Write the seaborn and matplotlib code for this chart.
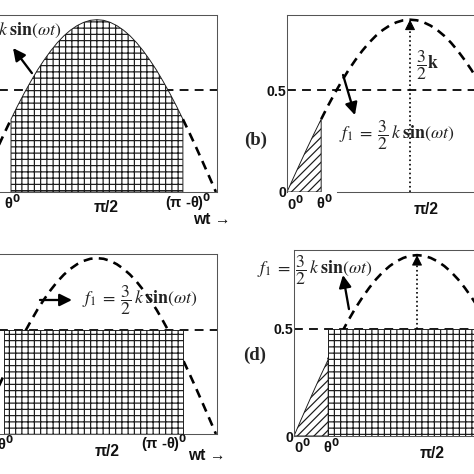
import matplotlib
matplotlib.use("Agg")
import matplotlib.pyplot as plt
import numpy as np
import pandas as pd
import seaborn as sns

# ---------------- data ----------------
angle_deg = list(range(0, 181, 5))          # wt in degrees
f1_height = [0.000, 0.074, 0.147, 0.219, 0.289, 0.357, 0.423, 0.485, 0.543,
             0.598, 0.647, 0.692, 0.732, 0.766, 0.794, 0.816, 0.832, 0.842,
             0.845,
             0.842, 0.832, 0.816, 0.794, 0.766, 0.732, 0.692, 0.647, 0.598,
             0.543, 0.485, 0.423, 0.357, 0.289, 0.219, 0.147, 0.074, 0.000]
threshold = 0.5
theta_deg = 25
peak_deg = 90
peak_val = 0.845
c_rect = [20, 155]            # grid block in panel (c)
panel_tags = ["(b)", "(d)"]
formula = r"$f_1\;=\;\dfrac{3}{2}\,k\;\mathbf{sin}(\omega t)$"
peak_label = r"$\dfrac{3}{2}\mathbf{k}$"
xlab_theta = r"θ$^{\mathbf{0}}$"
xlab_half = "π/2"
xlab_pimt = r"(π -θ)$^{\mathbf{0}}$"
xlab_zero = r"0$^{\mathbf{0}}$"
xlab_wt = "wt →"
ytick_vals = [0, 0.5]
ytick_labs = ["0", "0.5"]

df = pd.DataFrame({"angle": angle_deg, "f1": f1_height})

# ---------------- style ----------------
sns.set_theme(style="white")
plt.rcParams["font.family"] = ["Liberation Sans", "DejaVu Sans"]
plt.rcParams["mathtext.fontset"] = "stix"
plt.rcParams["hatch.linewidth"] = 1.15
plt.rcParams["hatch.color"] = "#1a1a1a"

W = H = 474
DPI = 75
fig = plt.figure(figsize=(W / DPI, H / DPI), dpi=DPI)
fig.patch.set_facecolor("white")

PT = 72 / DPI   # px -> points

CURVE = dict(color="black", lw=2.5, linestyle=(0, (3.5, 2.4)))
HLINE = dict(color="black", lw=1.7, linestyle=(0, (5, 3.5)))
LAB = dict(fontsize=14, fontweight="bold", color="#111111",
           math_fontfamily="dejavusans")
FORM = dict(fontsize=17, color="#222222")


def px_axes(x0, y0, x1, y1):
    ax = fig.add_axes([x0 / W, 1 - y1 / H, (x1 - x0) / W, (y1 - y0) / H])
    ax.set_facecolor("none")
    for s in ax.spines.values():
        s.set_color("#555555")
        s.set_linewidth(1.0)
        s.set_visible(True)
    ax.tick_params(length=0)
    ax.set_xticks([])
    ax.set_yticks([])
    return ax


def seg(a, b):
    return df[(df.angle >= a) & (df.angle <= b)]


def curve(ax, a, b, z=3, **kw):
    style = dict(CURVE)
    style.update(kw)
    sns.lineplot(data=seg(a, b), x="angle", y="f1", ax=ax, zorder=z,
                 legend=False, **style)


def hatch_under(ax, a, b, hatch, z=2):
    s = seg(a, b)
    ax.fill_between(s.angle, 0, s.f1, facecolor="white", edgecolor="#1a1a1a",
                    hatch=hatch, linewidth=0.9, zorder=z)


def grid_block(ax, a, b, z=2):
    ax.fill_between([a, b], 0, threshold, facecolor="white",
                    edgecolor="#1a1a1a", hatch="++", linewidth=0.9, zorder=z)


def xlab(ax, x, text, dx, dy, size=None):
    kw = dict(LAB)
    if size:
        kw["fontsize"] = size
    ax.annotate(text, xy=(x, 0), xytext=(dx * PT, dy * PT),
                textcoords="offset points", ha="center", va="center",
                annotation_clip=False, **kw)


def arrow(ax, tail, head):
    ax.annotate("", xy=head, xytext=tail,
                arrowprops=dict(arrowstyle="-|>,head_length=0.7,head_width=0.35",
                                lw=2.2, color="black", mutation_scale=14,
                                shrinkA=0, shrinkB=0), zorder=5)


def dotted_arrow(ax, x, y0, y1):
    ax.plot([x, x], [y0, y1 - 0.03], color="black", lw=1.6, linestyle=":",
            zorder=4)
    ax.annotate("", xy=(x, y1), xytext=(x, y1 - 0.045),
                arrowprops=dict(arrowstyle="-|>,head_length=0.6,head_width=0.3",
                                lw=1.0, color="black", mutation_scale=14,
                                shrinkA=0, shrinkB=0), zorder=5)


def yticks(ax):
    ax.set_yticks(ytick_vals)
    ax.set_yticklabels(ytick_labs, fontsize=13.5, fontweight="bold",
                       color="#111111")
    ax.tick_params(axis="y", pad=1)


# ---------------- panel (a) ----------------
ax = px_axes(-40, 15, 217, 192)
ax.axhline(threshold, zorder=1, **HLINE)
hatch_under(ax, theta_deg, 180 - theta_deg, "++")
curve(ax, 0, theta_deg)
curve(ax, 180 - theta_deg, 180)
arrow(ax, (40.8, 0.583), (26.5, 0.706))
ax.text(63.5, 0.784, formula, ha="right", va="center", **FORM)
ax.set_xlim(-13.6, 180.8)
ax.set_ylim(0, 0.868)
ax.set_xlabel("")
ax.set_ylabel("")
xlab(ax, theta_deg, xlab_theta, 1, -11)
xlab(ax, peak_deg, xlab_half, 9, -16, size=15)
xlab(ax, 180 - theta_deg, xlab_pimt, 5, -10)
xlab(ax, 180, xlab_wt, -4, -28, size=15)

# ---------------- panel (b) ----------------
ax = px_axes(287, 15, 537, 192)
ax.axhline(threshold, zorder=1, **HLINE)
hatch_under(ax, 0, theta_deg, "///")
curve(ax, theta_deg, 180)
dotted_arrow(ax, peak_deg, 0, peak_val)
ax.text(102.4, 0.623, peak_label, ha="center", va="center", **FORM)
ax.text(38, 0.279, formula, ha="left", va="center", **FORM)
arrow(ax, (41, 0.574), (49.7, 0.377))
ax.set_xlim(0, 182.9)
ax.set_ylim(0, 0.868)
ax.set_xlabel("")
ax.set_ylabel("")
ax.spines["bottom"].set_bounds(36.6, 182.9)
yticks(ax)
ax.text(-22.7, 0.255, panel_tags[0], ha="center", va="center",
        fontsize=18, fontweight="bold", family="Liberation Serif")
xlab(ax, 0, xlab_zero, 8, -12)
xlab(ax, theta_deg, xlab_theta, 3, -11)
xlab(ax, peak_deg, xlab_half, 16, -18, size=15)

# ---------------- panel (c) ----------------
ax = px_axes(-40, 254, 217, 434)
ax.axhline(threshold, zorder=1, **HLINE)
curve(ax, 0, 180, z=1)
grid_block(ax, c_rect[0], c_rect[1])
arrow(ax, (46.9, 0.644), (71.1, 0.644))
ax.text(78.7, 0.644, formula, ha="left", va="center", **FORM)
ax.set_xlim(-13.6, 180.8)
ax.set_ylim(0, 0.865)
ax.set_xlabel("")
ax.set_ylabel("")
xlab(ax, c_rect[0], xlab_theta, 1, -10)
xlab(ax, peak_deg, xlab_half, 10, -18, size=15)
xlab(ax, c_rect[1], xlab_pimt, -19, -9)
xlab(ax, 180, xlab_wt, -9, -21, size=15)

# ---------------- panel (d) ----------------
ax = px_axes(294, 250, 544, 436)
ax.axhline(threshold, zorder=1, **HLINE)
curve(ax, theta_deg, 180, z=1)
hatch_under(ax, 0, theta_deg, "///")
grid_block(ax, theta_deg, 180)
dotted_arrow(ax, peak_deg, threshold, peak_val)
ax.text(-27, 0.776, formula, ha="left", va="center", **FORM)
arrow(ax, (40.2, 0.593), (35.8, 0.752))
ax.set_xlim(0, 182.9)
ax.set_ylim(0, 0.869)
ax.set_xlabel("")
ax.set_ylabel("")
yticks(ax)
ax.text(-28.5, 0.379, panel_tags[1], ha="center", va="center",
        fontsize=18, fontweight="bold", family="Liberation Serif")
xlab(ax, 0, xlab_zero, 8, -11)
xlab(ax, theta_deg, xlab_theta, 3, -11)
xlab(ax, peak_deg, xlab_half, 15, -17, size=15)

fig.savefig("out.png", dpi=DPI, facecolor="white")
